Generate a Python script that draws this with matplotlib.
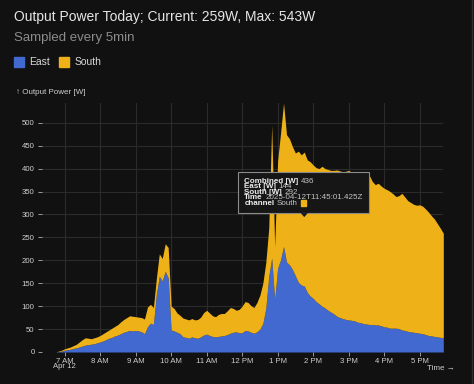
import numpy as np
import matplotlib
matplotlib.use('Agg')
import matplotlib.pyplot as plt
from matplotlib.patches import Rectangle, Polygon

#%% Data (5 min samples, local time):

times = ['06:15', '06:20', '06:25', '06:30', '06:35', '06:40', '06:45', '06:50', '06:55',
         '07:00', '07:05', '07:10', '07:15', '07:20', '07:25', '07:30', '07:35', '07:40',
         '07:45', '07:50', '07:55', '08:00', '08:05', '08:10', '08:15', '08:20', '08:25',
         '08:30', '08:35', '08:40', '08:45', '08:50', '08:55', '09:00', '09:05', '09:10',
         '09:15', '09:20', '09:25', '09:30', '09:35', '09:40', '09:45', '09:50', '09:55',
         '10:00', '10:05', '10:10', '10:15', '10:20', '10:25', '10:30', '10:35', '10:40',
         '10:45', '10:50', '10:55', '11:00', '11:05', '11:10', '11:15', '11:20', '11:25',
         '11:30', '11:35', '11:40', '11:45', '11:50', '11:55', '12:00', '12:05', '12:10',
         '12:15', '12:20', '12:25', '12:30', '12:35', '12:40', '12:45', '12:50', '12:55',
         '13:00', '13:05', '13:10', '13:15', '13:20', '13:25', '13:30', '13:35', '13:40',
         '13:45', '13:50', '13:55', '14:00', '14:05', '14:10', '14:15', '14:20', '14:25',
         '14:30', '14:35', '14:40', '14:45', '14:50', '14:55', '15:00', '15:05', '15:10',
         '15:15', '15:20', '15:25', '15:30', '15:35', '15:40', '15:45', '15:50', '15:55',
         '16:00', '16:05', '16:10', '16:15', '16:20', '16:25', '16:30', '16:35', '16:40',
         '16:45', '16:50', '16:55', '17:00', '17:05', '17:10', '17:15', '17:20', '17:25',
         '17:30', '17:35', '17:40']

east = [0, 0, 0, 0, 0, 0, 0, 1, 2,
        4, 5, 6, 8, 9, 11, 13, 15, 16,
        17, 18, 20, 22, 24, 27, 30, 32, 35,
        37, 40, 43, 45, 47, 46, 47, 46, 44,
        40, 55, 63, 60, 125, 165, 155, 176, 162,
        48, 46, 43, 40, 33, 32, 30, 33, 31,
        30, 33, 37, 39, 36, 34, 33, 34, 35,
        36, 38, 41, 43, 44, 42, 42, 47, 46,
        43, 41, 44, 50, 62, 95, 165, 205, 113,
        183, 201, 230, 196, 190, 180, 166, 152, 146,
        144, 130, 122, 117, 110, 105, 100, 96, 91,
        87, 83, 78, 75, 73, 71, 70, 69, 68,
        65, 64, 62, 61, 60, 60, 59, 59, 57,
        55, 54, 52, 52, 52, 51, 48, 47, 45,
        44, 43, 42, 41, 40, 38, 36, 35, 34,
        33, 32, 31]

south = [0, 0, 0, 0, 0, 0, 0, 1, 2,
         3, 4, 5, 6, 8, 11, 14, 16, 14,
         12, 13, 13, 14, 16, 17, 18, 20, 21,
         23, 26, 28, 30, 32, 32, 30, 30, 31,
         32, 43, 41, 37, 35, 49, 49, 60, 66,
         52, 49, 42, 40, 41, 40, 40, 40, 39,
         41, 43, 49, 52, 49, 45, 44, 48, 49,
         48, 52, 56, 52, 47, 51, 58, 63, 62,
         58, 56, 64, 74, 88, 100, 105, 290, 117,
         234, 277, 313, 278, 275, 268, 268, 286, 284,
         292, 289, 293, 291, 292, 295, 305, 304, 307,
         309, 313, 319, 320, 320, 323, 326, 323, 322,
         322, 322, 326, 329, 325, 312, 306, 309, 305,
         302, 300, 298, 293, 287, 290, 298, 291, 285,
         282, 279, 278, 280, 278, 274, 269, 262, 256,
         247, 238, 228]

hours = [7, 8, 9, 10, 11, 12, 13, 14, 15, 16, 17]
hour_labels = ['7 AM', '8 AM', '9 AM', '10 AM', '11 AM', '12 PM',
               '1 PM', '2 PM', '3 PM', '4 PM', '5 PM']
y_ticks = [0, 50, 100, 150, 200, 250, 300, 350, 400, 450, 500]

# Tooltip content
tip_time = '13:45'
tip_lines = [('Combined [W]', '436'), ('East [W]', '144'), ('South [W]', '292'),
             ('Time', '2025-04-12T11:45:01.425Z'), ('channel', 'South')]

#%% Conversions:

def to_hours(s):
    h, m = s.split(':')
    return int(h) + int(m)/60

t = np.array([to_hours(s) for s in times])
east = np.array(east)
south = np.array(south)
combined = east + south

#%% Style:

bg = '#111111'
c_east = '#4269d0'
c_south = '#efb118'
fam = ['Liberation Sans', 'DejaVu Sans']
plt.rcParams['font.family'] = fam

W, H = 474, 384
fig = plt.figure(figsize=(W/100, H/100), dpi=100, facecolor=bg)

def fx(px):
    return px/W

def fy(py):
    return 1 - py/H

ax = fig.add_axes([fx(38), fy(352), fx(443.3) - fx(38), fy(103) - fy(352)])
ax.set_facecolor(bg)

ax.fill_between(t, 0, east, color=c_east, lw=0, zorder=2)
ax.fill_between(t, east, combined, color=c_south, lw=0, zorder=2)

ax.set_xlim(t[0], t[-1])
ax.set_ylim(0, 543)

ax.set_xticks(hours)
ax.set_xticklabels(hour_labels)
ax.set_yticks(y_ticks)
ax.grid(True, color='#2b2b2b', lw=0.8)
ax.set_axisbelow(True)
for sp in ax.spines.values():
    sp.set_visible(False)

ax.tick_params(axis='x', colors='#9a9a9a', labelcolor='#cfcfcf', labelsize=5.6,
               length=3, width=0.7, pad=1.5)
ax.tick_params(axis='y', direction='in', colors='#9a9a9a', labelcolor='#cfcfcf',
               labelsize=5.6, length=3, width=0.7, pad=2.5)

ax.annotate('Apr 12', xy=(7, 0), xycoords=('data', 'axes fraction'),
            xytext=(0, -8), textcoords='offset points', ha='center', va='top',
            fontsize=5.6, color='#cfcfcf')

#%% Titles, legend, axis labels:

fig.text(fx(14), fy(17), 'Output Power Today; Current: 259W, Max: 543W',
         fontsize=10, color='#e6e6e6', va='center', ha='left')
fig.text(fx(14), fy(38), 'Sampled every 5min', fontsize=9.5, color='#8c8c8c',
         va='center', ha='left')

fig.patches.append(Rectangle((fx(14), fy(67)), fx(10.3), fy(57) - fy(67),
                             transform=fig.transFigure, color=c_east))
fig.text(fx(29.5), fy(62), 'East', fontsize=7.5, color='#d8d8d8', va='center')
fig.patches.append(Rectangle((fx(58.7), fy(67)), fx(10.3), fy(57) - fy(67),
                             transform=fig.transFigure, color=c_south))
fig.text(fx(75), fy(62), 'South', fontsize=7.5, color='#d8d8d8', va='center')

fig.text(fx(16.5), fy(92.3), '↑ Output Power [W]', fontsize=5.8, color='#cfcfcf',
         va='center', family=fam)
fig.text(fx(455), fy(369), 'Time →', fontsize=5.8, color='#cfcfcf',
         va='center', ha='right', family=fam)

# panel border on the right
fig.add_artist(plt.Line2D([fx(471.5), fx(471.5)], [0, 1], color='#2e2e2e', lw=1,
                          transform=fig.transFigure))

#%% Tooltip anchored at the South value:

i_tip = times.index(tip_time)
ax_px, ay_px = ax.transData.transform((t[i_tip], south[i_tip]))
ay_py = H - ay_px
left, right = ax_px - 66, ax_px + 65
top, bottom = ay_py - 46, ay_py - 5

fig.patches.append(Rectangle((fx(left), fy(bottom)), fx(right - left), fy(top) - fy(bottom),
                             transform=fig.transFigure, facecolor='#161616',
                             edgecolor='#8a8a8a', lw=0.8, zorder=10))
fig.patches.append(Polygon([(fx(ax_px - 3.5), fy(bottom)), (fx(ax_px + 3.5), fy(bottom)),
                            (fx(ax_px), fy(bottom + 4))], closed=True,
                           transform=fig.transFigure, facecolor='#161616',
                           edgecolor='none', zorder=11))

# lines are packed tightly, as in the original tooltip
renderer = fig.canvas.get_renderer()
line_y = [top + 9, top + 14.8, top + 20.3, top + 25.5, top + 31]
for (lab, val), py in zip(tip_lines, line_y):
    tl = fig.text(fx(left + 6), fy(py), lab, fontsize=5.8, fontweight='bold',
                  color='#ececec', va='center', zorder=12)
    bb = tl.get_window_extent(renderer)
    tv = fig.text(fx(bb.x1 + 2.5), fy(py), val, fontsize=5.8, color='#c4c4c4',
                  va='center', zorder=12)
    if lab == 'channel':
        bv = tv.get_window_extent(renderer)
        fig.patches.append(Rectangle((fx(bv.x1 + 3), fy(py + 2.7)), fx(5), fy(py - 2.7) - fy(py + 2.7),
                                     transform=fig.transFigure, color=c_south, zorder=12))

fig.savefig('out.png', dpi=100, facecolor=bg)
